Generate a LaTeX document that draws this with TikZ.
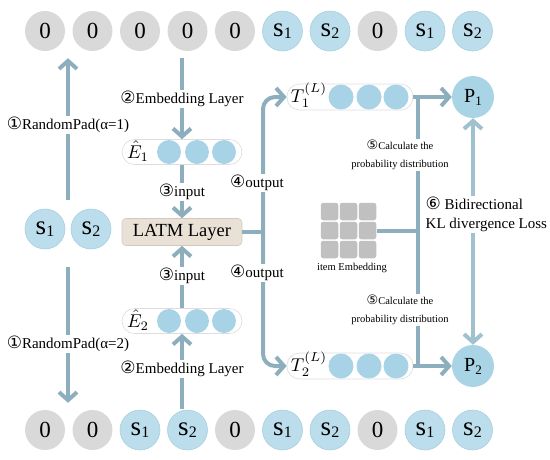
\documentclass[tikz,border=0pt]{standalone}
\usepackage{graphicx}
\usepackage{fontspec}
\setmainfont{Liberation Serif}
\newfontfamily\circfont{DejaVu Sans}
\usetikzlibrary{arrows.meta,calc}
\definecolor{greyc}{HTML}{D9D9D9}
\definecolor{bluec}{HTML}{BCDEEC}
\definecolor{bluecb}{HTML}{A9CFDF}
\definecolor{dotc}{HTML}{A8D3E6}
\definecolor{pc}{HTML}{A8D4E6}
\definecolor{arrc}{HTML}{8DAFBD}
\definecolor{arrl}{HTML}{A0C1CE}
\definecolor{latmf}{HTML}{EAE1D6}
\definecolor{latmd}{HTML}{D5C8B8}
\definecolor{gridc}{HTML}{C0C0C0}
\definecolor{pillb}{HTML}{DDDDDD}
\newcommand{\cn}[2][17]{{\circfont\fontsize{#1}{#1}\selectfont #2}}
\newcommand{\sx}[1]{{\fontsize{27}{27}\selectfont s}\raisebox{-2pt}{\fontsize{16}{16}\selectfont #1}}
\newcommand{\px}[1]{P\raisebox{-3pt}{\fontsize{13}{13}\selectfont #1}}
\newcommand{\mybigmath}[1]{\scalebox{1.85}{$#1$}}
\tikzset{
  zero/.style={circle, fill=greyc, minimum size=40pt, inner sep=0pt, font=\fontsize{23}{23}\selectfont},
  sc/.style={circle, fill=bluec, draw=bluecb, line width=0.6pt, minimum size=40pt, inner sep=0pt},
  dot/.style={circle, fill=dotc, minimum size=24pt, inner sep=0pt},
  pill/.style={rounded corners=12.5pt, draw=pillb, line width=0.6pt, fill=white, minimum height=25pt, inner sep=0pt},
  latm/.style={rounded corners=4pt, draw=latmd, line width=0.6pt, fill=latmf, minimum width=120pt, minimum height=27pt, inner sep=0pt, font=\fontsize{18.5}{20}\selectfont},
  pnode/.style={circle, fill=pc, minimum size=42pt, inner sep=0pt, font=\fontsize{20}{20}\selectfont},
  arr/.style={draw=arrc, line width=4pt, -{Straight Barb[length=8pt,width=18pt]}},
  barr/.style={draw=arrl, line width=4pt, {Straight Barb[length=8pt,width=18pt]}-{Straight Barb[length=8pt,width=18pt]}},
  ln/.style={draw=arrc, line width=4pt},
  lbl/.style={fill=white, inner sep=1.5pt, font=\fontsize{15}{17}\selectfont},
  smalllbl/.style={fill=white, inner sep=1pt, font=\fontsize{10.5}{18}\selectfont, align=center},
  cell/.style={rectangle, rounded corners=2.5pt, fill=gridc, minimum size=17.5pt, inner sep=0pt},
  mathlbl/.style={inner sep=0pt}
}
\begin{document}
\begin{tikzpicture}[x=1pt,y=-1pt]
\useasboundingbox (0,0) rectangle (550,459);
% top row
\node[zero] (t1) at (45,31) {0};
\node[zero] (t2) at (92.5,31) {0};
\node[zero] (t3) at (140,31) {0};
\node[zero] (t4) at (187.5,31) {0};
\node[zero] (t5) at (235,31) {0};
\node[sc] (t6) at (282.5,31) {\sx{1}};
\node[sc] (t7) at (330,31) {\sx{2}};
\node[zero] (t8) at (377.5,31) {0};
\node[sc] (t9) at (425,31) {\sx{1}};
\node[sc] (t10) at (472.5,31) {\sx{2}};
% bottom row
\node[zero] (b1) at (45,430) {0};
\node[zero] (b2) at (92.5,430) {0};
\node[sc] (b3) at (140,430) {\sx{1}};
\node[sc] (b4) at (187.5,430) {\sx{2}};
\node[zero] (b5) at (235,430) {0};
\node[sc] (b6) at (282.5,430) {\sx{1}};
\node[sc] (b7) at (330,430) {\sx{2}};
\node[zero] (b8) at (377.5,430) {0};
\node[sc] (b9) at (425,430) {\sx{1}};
\node[sc] (b10) at (472.5,430) {\sx{2}};
% middle sequence
\node[sc] (m1) at (45,229) {\sx{1}};
\node[sc] (m2) at (91,229) {\sx{2}};
% embedding pills
\node[pill, minimum width=120pt] (E1) at (182,152) {};
\node[dot] (E1a) at (169,152) {};
\node[dot] (E1b) at (197,152) {};
\node[dot] (E1c) at (224,152) {};
\node[mathlbl] (E1l) at (138,151) {\mybigmath{\hat{E}_1}};
\node[pill, minimum width=120pt] (E2) at (182,321) {};
\node[dot] (E2a) at (169,321) {};
\node[dot] (E2b) at (197,321) {};
\node[dot] (E2c) at (224,321) {};
\node[mathlbl] (E2l) at (138,320) {\mybigmath{\hat{E}_2}};
% LATM
\node[latm] (L) at (182,232) {LATM Layer};
% T pills
\node[pill, minimum width=126pt, minimum height=26pt] (T1) at (350,97) {};
\node[dot, minimum size=25pt] (T1a) at (341,97) {};
\node[dot, minimum size=25pt] (T1b) at (369,97) {};
\node[dot, minimum size=25pt] (T1c) at (396,97) {};
\node[mathlbl] (T1l) at (309,95) {\mybigmath{T_1^{(L)}}};
\node[pill, minimum width=126pt, minimum height=26pt] (T2) at (350,366) {};
\node[dot, minimum size=25pt] (T2a) at (341,366) {};
\node[dot, minimum size=25pt] (T2b) at (369,366) {};
\node[dot, minimum size=25pt] (T2c) at (396,366) {};
\node[mathlbl] (T2l) at (309,364) {\mybigmath{T_2^{(L)}}};
% P nodes
\node[pnode] (P1) at (473,97) {\px{1}};
\node[pnode] (P2) at (473,366) {\px{2}};
% item embedding grid
\node[minimum size=57pt, inner sep=0pt] (emb) at (348.5,230.5) {};
\foreach \i in {0,1,2}{\foreach \j in {0,1,2}{
  \node[cell] at (329.5+19*\i,211.5+19*\j) {};}}
\node[font=\fontsize{10.5}{12}\selectfont] (embl) at (352,268) {item Embedding};
% left arrows
\coordinate (pad1) at (68,200);
\draw[arr, shorten >=7pt] (pad1) -- (pad1 |- t2.south);
\node[lbl] (pl1) at (68,125) {\cn{①}RandomPad(α=1)};
\coordinate (pad2) at (68,267);
\draw[arr, shorten >=7pt] (pad2) -- (pad2 |- b2.north);
\node[lbl] (pl2) at (68,344) {\cn{①}RandomPad(α=2)};
% embedding arrows
\coordinate (e1s) at (182,58);
\draw[arr] (e1s) -- (E1.north);
\node[lbl] (el1) at (182,99) {\cn{②}Embedding Layer};
\draw[arr] (E1.south) -- (L.north);
\node[lbl] (il1) at (182,192) {\cn{③}input};
\coordinate (e2s) at (182,409);
\draw[arr] (e2s) -- (E2.south);
\node[lbl] (el2) at (182,369) {\cn{②}Embedding Layer};
\draw[arr] (E2.north) -- (L.south);
\node[lbl] (il2) at (182,276) {\cn{③}input};
% outputs
\coordinate (J) at (263,232);
\draw[ln] (L.east) -- (J);
\draw[arr, rounded corners=12pt] (J) |- (T1.west);
\draw[arr, rounded corners=12pt] (J) |- (T2.west);
\node[lbl] (ol1) at (257,183) {\cn{④}output};
\node[lbl] (ol2) at (257,273) {\cn{④}output};
% probability
\coordinate (K1) at (418,95);
\coordinate (K2) at (418,368);
\draw[ln] (K1) -- (K2);
\draw[ln] (emb.east) -- (emb.east -| K1);
\draw[arr] (T1.east) -- (P1.west);
\draw[arr] (T2.east) -- (P2.west);
\node[smalllbl] (cl1) at (400,155) {\cn[13]{⑤}Calculate the\\probability distribution};
\node[smalllbl] (cl2) at (400,310) {\cn[13]{⑤}Calculate the\\probability distribution};
% bidirectional
\draw[barr] (P1.south) -- (P2.north);
\node[lbl, anchor=west, align=left, font=\fontsize{15}{19}\selectfont] (kl) at (424,214.5) {\cn{⑥} Bidirectional\\KL divergence Loss};
\end{tikzpicture}
\end{document}
